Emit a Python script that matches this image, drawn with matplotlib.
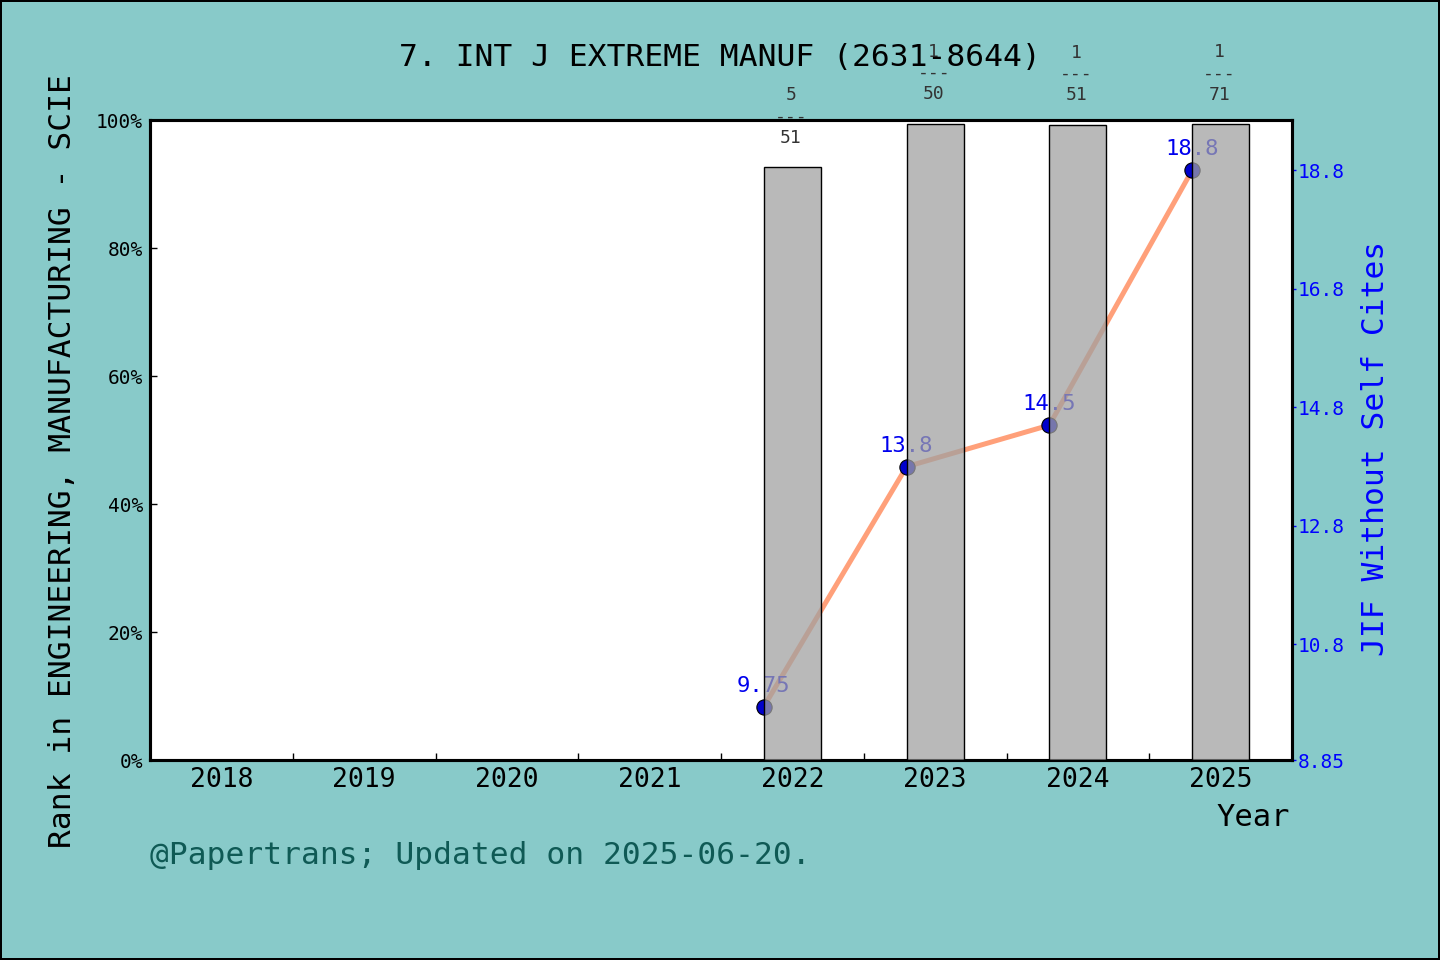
import matplotlib
matplotlib.use("Agg")
import matplotlib.pyplot as plt
from matplotlib.ticker import FixedLocator, PercentFormatter

years = ["2018", "2019", "2020", "2021", "2022", "2023", "2024", "2025"]
bar_years = ["2022", "2023", "2024", "2025"]
rank_pct = [92.6, 99.4, 99.2, 99.3]
rank_num = [5, 1, 1, 1]
rank_den = [51, 50, 51, 71]
jif = [9.75, 13.8, 14.5, 18.8]
jif_ticks = [8.85, 10.8, 12.8, 14.8, 16.8, 18.8]
title = "7. INT J EXTREME MANUF (2631-8644)"
ylabel_left = "Rank in ENGINEERING, MANUFACTURING - SCIE"
ylabel_right = "JIF Without Self Cites"
footer = "@Papertrans; Updated on 2025-06-20."

BG = "#88CAC9"
MONO = "DejaVu Sans Mono"

fig = plt.figure(figsize=(14.4, 9.6), dpi=100, facecolor=BG,
                 edgecolor="black", linewidth=1.5)
ax = fig.add_axes([150/1440, 200/960, 1142/1440, 640/960])
ax2 = ax.twinx()
ax.set_zorder(2)
ax.patch.set_visible(False)
ax2.set_zorder(1)
ax2.patch.set_facecolor("white")
ax2.patch.set_visible(True)

xpos = [years.index(y) for y in bar_years]

# line (under bars)
ax2.plot([x - 0.2 for x in xpos], jif, color="#FFA07A", lw=3.6, zorder=2,
         marker="o", markersize=11, markerfacecolor="#0000CC",
         markeredgecolor="black", markeredgewidth=0.8)
for x, v in zip(xpos, jif):
    ax2.annotate(f"{v:g}", (x - 0.2, v), xytext=(0, 8), textcoords="offset points",
                 ha="center", va="bottom", color="#0000EE", fontsize=16,
                 family=MONO, zorder=3)
ax2.set_ylim(8.85, 19.65)
ax2.yaxis.set_major_locator(FixedLocator(jif_ticks))
ax2.set_yticklabels([f"{t:g}" for t in jif_ticks])
ax2.tick_params(axis="y", direction="out", length=3, width=1, colors="#0000FF",
                labelsize=14, pad=1)
for lab in ax2.get_yticklabels():
    lab.set_family(MONO)

# bars (over line)
ax.bar(xpos, rank_pct, width=0.4, facecolor=(0.63, 0.63, 0.63, 0.74),
       edgecolor="black", linewidth=1, zorder=3)
for x, h, n, d in zip(xpos, rank_pct, rank_num, rank_den):
    ax.annotate(f"{n}\n---\n{d}", (x, h), xytext=(-1, 15), textcoords="offset points",
                ha="center", va="bottom", fontsize=13, color="#333333",
                family=MONO, linespacing=1.22, annotation_clip=False)

ax.set_xlim(-0.5, 7.5)
ax.set_ylim(0, 100)
ax.set_xticks(range(len(years)))
ax.set_xticklabels(years)
ax.set_xticks([i + 0.5 for i in range(len(years) - 1)], minor=True)
ax.tick_params(axis="x", which="major", length=0, labelsize=19, pad=5)
ax.tick_params(axis="x", which="minor", direction="in", length=5, width=1)
ax.yaxis.set_major_formatter(PercentFormatter(decimals=0))
ax.set_yticks([0, 20, 40, 60, 80, 100])
ax.tick_params(axis="y", direction="in", length=5, width=1, labelsize=14, pad=5)
for lab in ax.get_xticklabels() + ax.get_yticklabels():
    lab.set_family(MONO)

for a in (ax, ax2):
    for s in a.spines.values():
        s.set_linewidth(2.2)
        s.set_color("black")

fig.text(0.5, 1 - 57/960, title, ha="center", va="center", fontsize=22.5,
         family=MONO, color="black")
fig.text(63/1440, 1 - 461/960, ylabel_left, rotation=90, ha="center", va="center",
         fontsize=22.5, family=MONO, color="black")
fig.text(1375/1440, 1 - 448/960, ylabel_right, rotation=90, ha="center", va="center",
         fontsize=22.5, family=MONO, color="#0000FF")
fig.text(1290/1440, 1 - 817/960, "Year", ha="right", va="center", fontsize=22,
         family=MONO, color="black")
fig.text(150/1440, 1 - 855/960, footer, ha="left", va="center", fontsize=22.5,
         family=MONO, color="#0F5A55")

fig.savefig("out.png", dpi=100, facecolor=BG, edgecolor="black")
